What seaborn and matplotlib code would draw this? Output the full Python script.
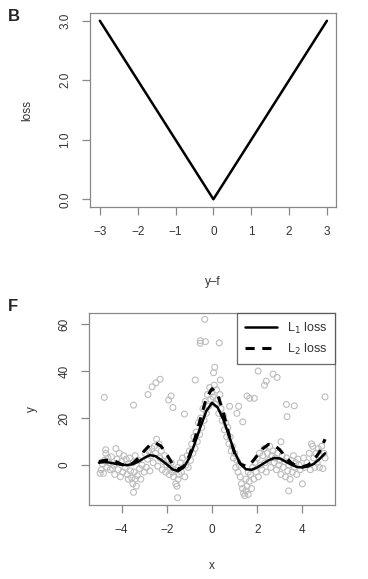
import numpy as np
import pandas as pd
import matplotlib
matplotlib.use("Agg")
import matplotlib.pyplot as plt
import seaborn as sns

# panel B: absolute loss
resid = [-3, 0, 3]
loss = [3, 0, 3]

# panel F: fitted curves
grid_x = [-5.0, -4.75, -4.5, -4.25, -4.0, -3.75, -3.5, -3.25, -3.0, -2.75, -2.5,
          -2.25, -2.0, -1.75, -1.5, -1.25, -1.0, -0.75, -0.5, -0.25, 0.0,
          0.25, 0.5, 0.75, 1.0, 1.25, 1.5, 1.75, 2.0, 2.25, 2.5,
          2.75, 3.0, 3.25, 3.5, 3.75, 4.0, 4.25, 4.5, 4.75, 5.0]
fit_l1 = [1.0, 1.3, 1.0, 0.5, 0.1, 0.0, 0.4, 1.5, 3.0, 4.2, 3.8,
          2.2, 0.3, -1.8, -2.6, -1.0, 3.0, 9.5, 16.5, 23.0, 26.5,
          24.5, 19.5, 12.5, 5.5, 0.5, -1.8, -2.0, -1.0, 0.5, 2.0,
          3.0, 2.8, 1.5, 0.2, -0.8, -1.0, -0.6, 0.5, 2.5, 5.0]
fit_l2 = [1.5, 2.0, 2.2, 1.5, 0.3, -0.2, 0.8, 3.0, 6.0, 8.5, 9.5,
          8.0, 4.5, 0.5, -1.8, -0.5, 4.0, 11.5, 20.0, 28.5, 32.5,
          30.0, 22.5, 13.0, 5.0, 0.5, -0.5, 1.0, 4.0, 7.0, 8.8,
          8.5, 6.5, 3.5, 1.0, -0.5, -0.8, 0.0, 2.0, 5.5, 11.0]

# panel F: observations
obs_x = [-4.95, -4.9, -4.85, -4.8, -4.75, -4.7, -4.7, -4.65, -4.6, -4.55, -4.5, -4.45,
         -4.4, -4.35, -4.3, -4.25, -4.2, -4.15, -4.1, -4.05, -4.0, -3.95, -3.9, -3.85,
         -3.8, -3.75, -3.7, -3.7, -3.65, -3.6, -3.55, -3.5, -3.5, -3.45, -3.4, -3.4,
         -3.35, -3.3, -3.25, -3.2, -3.15, -3.1, -3.0, -2.95, -2.9, -2.85, -2.8, -2.75,
         -2.7, -2.65, -2.6, -2.55, -2.5, -2.45, -2.4, -2.35, -2.3, -2.25, -2.2, -2.15,
         -2.1, -2.05, -2.0, -1.95, -1.9, -1.85, -1.8, -1.75, -1.7, -1.65, -1.6, -1.55,
         -1.5, -1.5, -1.45, -1.4, -1.35, -1.3,
         -4.76, -3.47, -3.47, -2.83, -2.65, -2.48, -2.29, -1.92, -1.81, -1.73, -1.22,
         -1.52, -0.74,
         -1.2, -1.15, -1.1, -1.05, -1.0, -0.95, -0.9, -0.85, -0.8, -0.75, -0.7, -0.65,
         -0.6, -0.55, -0.5, -0.45, -0.4, -0.35, -0.3, -0.25, -0.2, -0.15, -0.1, -0.05,
         0.0, 0.05, 0.1, 0.15, 0.2, 0.25, 0.3, 0.35, 0.4, 0.45, 0.5, 0.55,
         0.6, 0.65, 0.7, 0.75, 0.8, 0.85, 0.9, 0.95, 1.0, 1.05, 1.1, 1.15,
         1.2, 1.25,
         -0.52, -0.52, -0.29, -0.32, 0.32, 0.12, 0.07, 0.37, 0.78, 1.18, 1.1, 1.36,
         1.3, 1.35, 1.4, 1.45, 1.5, 1.5, 1.55, 1.6, 1.6, 1.65, 1.7, 1.75,
         1.8, 1.85, 1.9, 1.95, 2.0, 2.05, 2.1, 2.15, 2.2, 2.25, 2.3, 2.35,
         2.4, 2.45, 2.5, 2.55, 2.6, 2.65, 2.7, 2.75, 2.8, 2.85, 2.9, 2.95,
         3.0, 3.05, 3.1, 3.15, 3.2, 3.25, 3.3, 3.35, 3.4, 3.45, 3.5, 3.55,
         3.6, 3.65, 3.7, 3.75, 3.8, 3.85, 3.9, 4.0, 4.05, 4.1, 4.2, 4.3,
         4.35, 4.4, 4.45, 4.5, 4.55, 4.6, 4.65, 4.7, 4.75, 4.8, 4.85, 4.9,
         4.95, 5.0,
         1.55, 1.67, 1.87, 2.04, 2.32, 2.4, 2.7, 2.88, 3.29, 3.64, 3.32, 3.05,
         5.0, 3.39]
obs_y = [-3.5, -2, 0.5, -3.5, 2, 5, 6.5, -1, 3, 1, -2, 3.5,
         -1.5, 0, -4, 7, 2.5, -2, 5, -5, 1.5, -3, 4, -1,
         2.5, -4, -6, 0.5, 3, -2.5, -5.5, -8, 1, -3, 4, -6,
         -9, -4.5, 2, -1.5, -6, 0, -3, 5, -1, 2.5, 6, -2.5,
         4, 7, 1, 8, 5, 11, -0.5, 9, 3, 6, -2, 1.5,
         4, -3, 0, 2, -4, -1, 1, -3, -5, -2, -8, -9,
         -6, -1, -4, 1, -3, 3,
         28.8, 25.5, -11.6, 30, 33.3, 35, 36.5, 27.7, 29.4, 24.5, 21.7,
         -13.9, 36.2,
         -5, 0, 4, -1, 6, 2, 9, 5, 12, 7, 14, 10,
         18, 13, 20, 16, 24, 19, 27, 22, 30, 25, 33, 28,
         31, 29, 34, 26, 32, 28, 22, 30, 24, 19, 21, 15,
         18, 12, 16, 9, 12, 6, 8, 3, 5, -1, 2, -3,
         0, -5,
         51.8, 52.9, 52.5, 62, 52, 41.6, 39.3, 36.2, 25, 25, 22, 18.4,
         -8, -10, -12, -13, -6, -11, -9, -3, -12.5, -7, -4, -10,
         -1, -6, 1, -3, 3, -5, 5, 0, -2, 4, 7, 1,
         -3, 5, 2, 8, -1, 4, 6, 1, 3, -2, 5, 0,
         2, -4, 4, -1, 1.5, -5, 3, -2.5, 0, -6, 2, -3,
         4, -1, 1, -4, 2.5, 0, -2, -8, 3, -1, 1, 5,
         -2, 9, 8, 3, -1, 5, 1, 7, -1, 4, 8, -1.5,
         5, 3,
         29.4, 28.4, 28.4, 40, 34, 35.7, 38.7, 37.3, 25.8, 25.2, 20.6, 9.9,
         29, -11]

sns.set_style("ticks")
plt.rcParams['font.family'] = ['Liberation Sans', 'DejaVu Sans']
plt.rcParams['axes.edgecolor'] = '#888888'
plt.rcParams['xtick.color'] = '#888888'
plt.rcParams['ytick.color'] = '#888888'
plt.rcParams['xtick.labelcolor'] = '#333333'
plt.rcParams['ytick.labelcolor'] = '#333333'

fig = plt.figure(figsize=(3.68, 5.79), dpi=100)
ax1 = fig.add_axes([0.2446, 0.6425, 0.6685, 0.335])
ax2 = fig.add_axes([0.2418, 0.1278, 0.6685, 0.3316])

fs = 8.5

def style_axis(ax):
    for s in ax.spines.values():
        s.set_visible(True)
        s.set_linewidth(0.9)
        s.set_color('#888888')
    ax.tick_params(direction='out', length=5.5, width=0.9, labelsize=fs)
    ax.tick_params(axis='x', pad=8)
    ax.tick_params(axis='y', pad=8)
    for lab in ax.get_yticklabels():
        lab.set_rotation(90)
        lab.set_va('center')


'''Top panel - absolute loss'''
sns.lineplot(x=resid, y=loss, ax=ax1, color='black', lw=1.8)
ax1.set_xlim(-3.26, 3.24)
ax1.set_ylim(-0.13, 3.13)
ax1.set_xticks([-3, -2, -1, 0, 1, 2, 3])
ax1.set_yticks([0, 1, 2, 3])
ax1.set_yticklabels(['0.0', '1.0', '2.0', '3.0'])
ax1.set_xlabel('y\u2013f', fontsize=fs, color='#333333', va='center')
ax1.set_ylabel('loss', fontsize=fs, color='#333333', va='center')
ax1.xaxis.set_label_coords(0.5, -0.385)
ax1.yaxis.set_label_coords(-0.256, 0.5)
style_axis(ax1)


'''Bottom panel - data with L1 / L2 fits'''
sns.scatterplot(x=obs_x, y=obs_y, ax=ax2, marker='o', s=18,
                facecolors='none', edgecolor='#bdbdbd', linewidth=0.8)
sns.lineplot(x=grid_x, y=fit_l1, ax=ax2, color='black', lw=1.8, label='L$_1$ loss')
sns.lineplot(x=grid_x, y=fit_l2, ax=ax2, color='black', lw=2.2,
             linestyle=(0, (3, 2.5)), label='L$_2$ loss')
ax2.set_xlim(-5.44, 5.44)
ax2.set_ylim(-17, 64.7)
ax2.set_xticks([-4, -2, 0, 2, 4])
ax2.set_yticks([0, 20, 40, 60])
ax2.set_xlabel('x', fontsize=fs, color='#333333', va='center')
ax2.set_ylabel('y', fontsize=fs, color='#333333', va='center')
ax2.xaxis.set_label_coords(0.5, -0.318)
ax2.yaxis.set_label_coords(-0.232, 0.5)
style_axis(ax2)

leg = ax2.legend(loc='upper right', fontsize=fs + 0.5, frameon=True, fancybox=False,
                 borderaxespad=0, handlelength=2.6, borderpad=0.6, labelspacing=0.5)
leg.get_frame().set_edgecolor('#444444')
leg.get_frame().set_linewidth(0.9)
for t in leg.get_texts():
    t.set_color('#333333')

fig.text(0.038, 0.971, 'B', fontsize=12, fontweight='bold', va='center', ha='center')
fig.text(0.035, 0.470, 'F', fontsize=12, fontweight='bold', va='center', ha='center')

fig.savefig('out.png', dpi=100)
